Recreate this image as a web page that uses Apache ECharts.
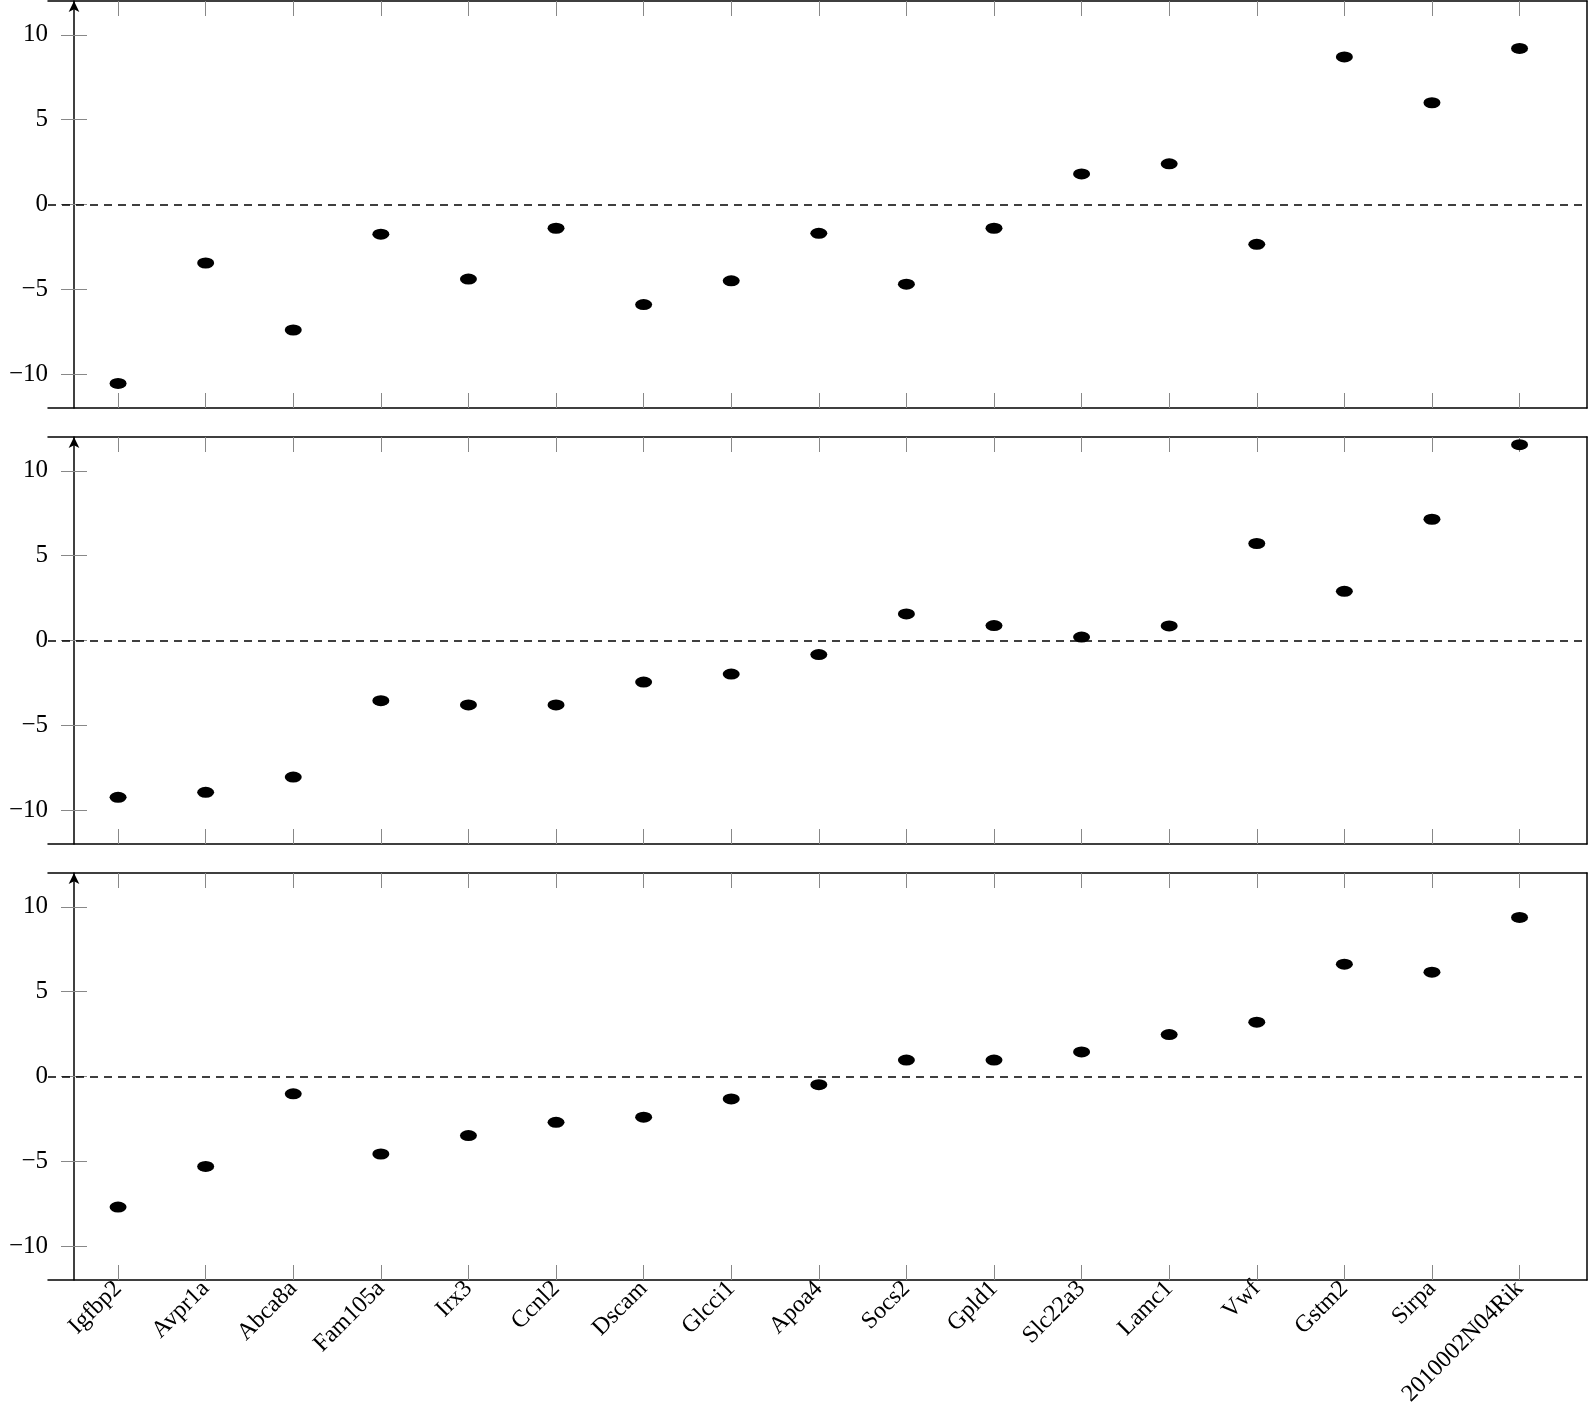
<!DOCTYPE html>
<html><head><meta charset="utf-8">
<script src="https://cdn.jsdelivr.net/npm/echarts@6/dist/echarts.min.js"></script>
<style>html,body{margin:0;padding:0;background:#fff}#c{width:1596px;height:1410px}</style>
</head><body><div id="c"></div>
<script>
const categories = ['Igfbp2','Avpr1a','Abca8a','Fam105a','Irx3','Ccnl2','Dscam','Glcci1','Apoa4','Socs2','Gpld1','Slc22a3','Lamc1','Vwf','Gstm2','Sirpa','2010002N04Rik'];
const panel1 = [-10.55,-3.45,-7.4,-1.75,-4.4,-1.4,-5.9,-4.5,-1.7,-4.7,-1.4,1.8,2.4,-2.35,8.7,6.0,9.2];
const panel2 = [-9.25,-8.95,-8.05,-3.55,-3.8,-3.8,-2.45,-1.98,-0.83,1.57,0.88,0.2,0.86,5.72,2.9,7.15,11.55];
const panel3 = [-7.7,-5.3,-1.02,-4.57,-3.48,-2.7,-2.4,-1.32,-0.48,0.97,0.97,1.45,2.47,3.2,6.62,6.15,9.38];
const yTicks = [-10,-5,0,5,10];
const panels = [panel1, panel2, panel3];

const FONT = '"Liberation Serif", "Times New Roman", serif';
const idx = categories.map((_, i) => i);
const grids = [], xAxes = [], yAxes = [], series = [];
const tops = [1, 437, 873];
panels.forEach((vals, p) => {
  grids.push({left: 48, top: tops[p], width: 1539, height: 407, containLabel: false, outerBoundsMode: 'none'});
  const last = p === panels.length - 1;
  xAxes.push({
    type: 'value', gridIndex: p, position: 'bottom', min: -0.8, max: 16.77,
    splitLine: {show: false},
    axisLine: {show: true, onZero: false, lineStyle: {color: '#000', width: 1.5}},
    axisTick: {show: true, inside: true, length: 15, customValues: idx, lineStyle: {color: '#888', width: 1}},
    axisLabel: {show: last, customValues: idx, rotate: 45, margin: 5, fontFamily: FONT, fontSize: 24, color: '#000',
      formatter: v => categories[Math.round(v)] || ''}
  });
  xAxes.push({
    type: 'value', gridIndex: p, position: 'top', min: -0.8, max: 16.77,
    splitLine: {show: false},
    axisLine: {show: true, onZero: false, lineStyle: {color: '#000', width: 1.5}},
    axisTick: {show: true, inside: true, length: 15, customValues: idx, lineStyle: {color: '#888', width: 1}},
    axisLabel: {show: false}
  });
  const yBase = {type: 'value', gridIndex: p, min: -12, max: 12, splitLine: {show: false}};
  yAxes.push(Object.assign({}, yBase, {
    position: 'left', offset: -26,
    axisLine: {show: true, onZero: false, symbol: ['none', 'arrow'], symbolSize: [8, 11], symbolOffset: [0, 0], lineStyle: {color: '#000', width: 1.5}},
    axisTick: {show: true, length: 13, customValues: yTicks, lineStyle: {color: '#888', width: 1}},
    axisLabel: {show: true, customValues: yTicks, margin: 26, fontFamily: FONT, fontSize: 25, color: '#000',
      formatter: v => (v < 0 ? '\u2212' + Math.abs(v) : String(v))}
  }));
  yAxes.push(Object.assign({}, yBase, {
    position: 'left', offset: -26,
    axisLine: {show: false, onZero: false},
    axisTick: {show: true, inside: true, length: 13, customValues: yTicks, lineStyle: {color: '#888', width: 1}},
    axisLabel: {show: false}
  }));
  yAxes.push(Object.assign({}, yBase, {
    position: 'right',
    axisLine: {show: true, onZero: false, lineStyle: {color: '#000', width: 1.5}},
    axisTick: {show: false}, axisLabel: {show: false}
  }));
  series.push({
    type: 'scatter', xAxisIndex: 2 * p, yAxisIndex: 3 * p,
    data: vals.map((v, i) => [i, v]),
    symbol: 'circle', symbolSize: [17, 11],
    itemStyle: {color: '#000', opacity: 1},
    emphasis: {disabled: true},
    markLine: {
      silent: true, symbol: ['none', 'none'], label: {show: false},
      lineStyle: {color: '#000', width: 1.5, type: [8, 6], opacity: 1},
      data: [{yAxis: 0}]
    }
  });
});

const chart = echarts.init(document.getElementById('c'), null, {renderer: 'canvas'});
chart.setOption({
  animation: false,
  backgroundColor: '#fff',
  grid: grids, xAxis: xAxes, yAxis: yAxes, series: series
});
</script>
</body></html>
